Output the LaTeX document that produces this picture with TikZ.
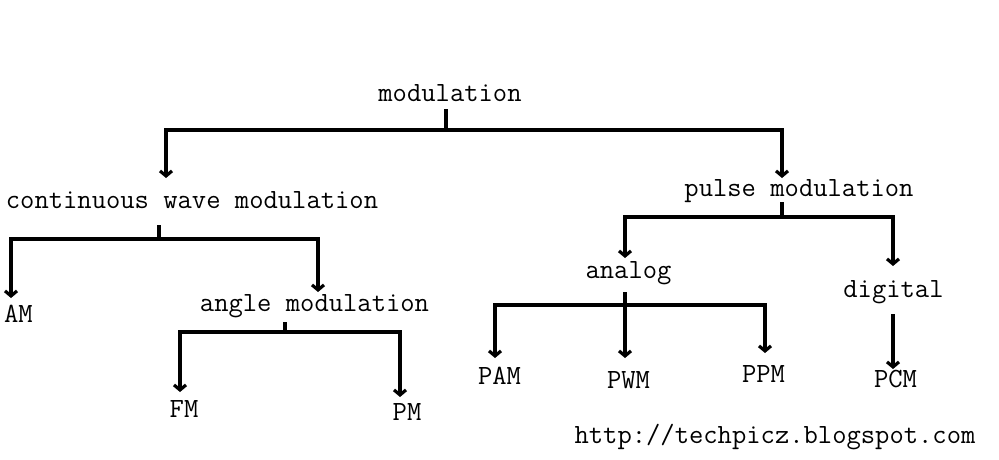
\documentclass[tikz,border=0pt]{standalone}
\usetikzlibrary{arrows.meta}
\begin{document}
\begin{tikzpicture}[x=1pt,y=-1pt,
  lbl/.style={font=\ttfamily\fontsize{27.8}{30}\selectfont, inner sep=0pt, anchor=base},
  ln/.style={line width=3.2pt},
  arr/.style={ln, -{Straight Barb[length=5pt,width=12pt]}}]
\fill[white] (0,0) rectangle (999,460);
\useasboundingbox (0,0) rectangle (999,460);
% labels
\node[lbl] (mod) at (450,102) {modulation};
\node[lbl] (cw) at (192,208) {continuous wave modulation};
\node[lbl] (pulse) at (799,196) {pulse modulation};
\node[lbl] (am) at (18.5,322) {AM};
\node[lbl] (angle) at (314.5,311) {angle modulation};
\node[lbl] (fm) at (184,417) {FM};
\node[lbl] (pm) at (407,420) {PM};
\node[lbl] (analog) at (628.5,278) {analog};
\node[lbl] (digital) at (893.5,297) {digital};
\node[lbl] (pam) at (499.5,384) {PAM};
\node[lbl] (pwm) at (628.5,388) {PWM};
\node[lbl] (ppm) at (763.5,382) {PPM};
\node[lbl] (pcm) at (895.5,387) {PCM};
\node[lbl] (url) at (775,443) {http://techpicz.blogspot.com};
% junction coordinates
\coordinate (modS) at (446,109);
\coordinate (modJ) at (446,130);
\coordinate (cwT) at (166,178);
\coordinate (pulseT) at (782,178);
\coordinate (cwS) at (159,225);
\coordinate (cwJ) at (159,239);
\coordinate (amT) at (11,298);
\coordinate (angleT) at (318,292);
\coordinate (angleS) at (285,322);
\coordinate (angleJ) at (285,332);
\coordinate (fmT) at (180,392);
\coordinate (pmT) at (400,397);
\coordinate (pulseS) at (782,202);
\coordinate (pulseJ) at (782,217);
\coordinate (analogT) at (625,258);
\coordinate (digitalT) at (893,266);
\coordinate (analogS) at (625,292);
\coordinate (analogJ) at (625,305);
\coordinate (pamT) at (495,358);
\coordinate (pwmT) at (625,358);
\coordinate (ppmT) at (765,353);
\coordinate (digitalS) at (893,314);
\coordinate (pcmT) at (893,369);
% connectors
\draw[ln] (modS) -- (modJ);
\draw[arr] (modJ) -| (cwT);
\draw[arr] (modJ) -| (pulseT);
\draw[ln] (cwS) -- (cwJ);
\draw[arr] (cwJ) -| (amT);
\draw[arr] (cwJ) -| (angleT);
\draw[ln] (angleS) -- (angleJ);
\draw[arr] (angleJ) -| (fmT);
\draw[arr] (angleJ) -| (pmT);
\draw[ln] (pulseS) -- (pulseJ);
\draw[arr] (pulseJ) -| (analogT);
\draw[arr] (pulseJ) -| (digitalT);
\draw[arr] (analogS) -- (pwmT);
\draw[arr] (analogJ) -| (pamT);
\draw[arr] (analogJ) -| (ppmT);
\draw[arr] (digitalS) -- (pcmT);
\end{tikzpicture}
\end{document}
